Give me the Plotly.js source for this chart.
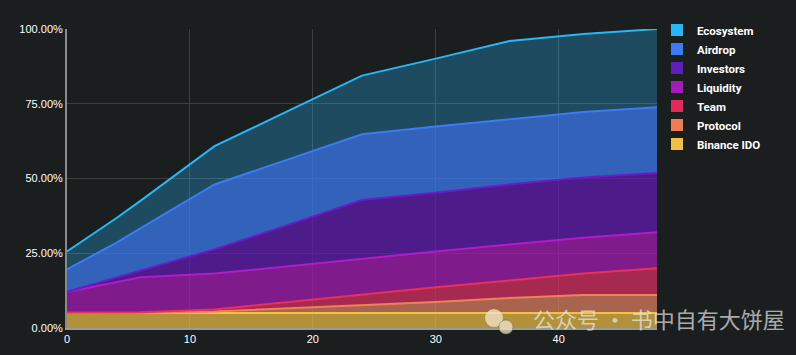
<!DOCTYPE html>
<html>
<head>
<meta charset="utf-8">
<script src="https://cdn.plot.ly/plotly-3.0.1.min.js"></script>
<style>
html,body{margin:0;padding:0;background:#1b1e1f;}
#chart{width:796px;height:355px;}
</style>
</head>
<body>
<div id="chart"></div>
<script>
// months
const months = [0, 4, 6, 12, 18, 24, 30, 36, 42, 48];
// unlocked share of total supply (%) per allocation, stacked bottom -> top
const binanceIDO = [5, 5, 5, 5, 5, 5, 5, 5, 5, 5];
const protocol   = [0, 0, 0, 0.5, 1.5, 2.5, 3.7, 5, 6, 6];
const team       = [0.2, 0.2, 0.3, 0.7, 2.2, 3.7, 4.9, 5.9, 7.2, 9];
const liquidity  = [6.8, 10.1, 11.7, 12, 12, 12, 12, 12, 12, 12];
const investors  = [0.1, 1.5, 2.1, 8.1, 13.8, 19.6, 19.6, 20.1, 20.1, 19.8];
const airdrop    = [7.5, 11.7, 14.3, 21.7, 21.9, 22, 22.2, 21.9, 21.9, 22];
const ecosystem  = [6, 8.2, 9.2, 12.8, 16.2, 19.6, 22.7, 26.1, 26.1, 26.2];

const yTicks = [0, 25, 50, 75, 100];
const yTickText = ['0.00%', '25.00%', '50.00%', '75.00%', '100.00%'];
const xTicks = [0, 10, 20, 30, 40];
const xTickText = ['0', '10', '20', '30', '40'];

const series = [
  {name: 'Binance IDO', y: binanceIDO, line: '#f4c145', fill: 'rgba(244,194,70,0.7)', legend: '#f2c04a'},
  {name: 'Protocol',    y: protocol,   line: '#f08057', fill: 'rgba(228,130,98,0.7)', legend: '#ee7d55'},
  {name: 'Team',        y: team,       line: '#e8305d', fill: 'rgba(225,47,101,0.7)', legend: '#e02a5b'},
  {name: 'Liquidity',   y: liquidity,  line: '#b01cc8', fill: 'rgba(170,25,185,0.7)', legend: '#a21cb8'},
  {name: 'Investors',   y: investors,  line: '#6a1bc8', fill: 'rgba(100,25,185,0.7)', legend: '#5e1fb8'},
  {name: 'Airdrop',     y: airdrop,    line: '#3b7cf4', fill: 'rgba(59,125,245,0.72)', legend: '#3d7bf5'},
  {name: 'Ecosystem',   y: ecosystem,  line: '#29b6f6', fill: 'rgba(41,182,246,0.3)', legend: '#29b6f6'}
];

const traces = [];
series.forEach((s, i) => {
  traces.push({
    type: 'scatter', mode: 'lines', x: months, y: s.y, name: s.name,
    stackgroup: 'one', fillcolor: s.fill,
    line: {color: s.line, width: 2},
    showlegend: false, hoverinfo: 'skip'
  });
});
// legend swatches (top-to-bottom order)
series.slice().reverse().forEach(s => {
  traces.push({
    type: 'scatter', mode: 'markers', x: [null], y: [null], name: s.name,
    marker: {symbol: 'square', size: 11, color: s.legend},
    showlegend: true, hoverinfo: 'skip'
  });
});

const iconColor = 'rgba(240,230,205,0.75)';

const layout = {
  width: 796, height: 355,
  paper_bgcolor: '#1b1e1f', plot_bgcolor: '#1b1e1f',
  margin: {l: 67, r: 139, t: 29, b: 27},
  font: {family: 'Liberation Sans, Arial, sans-serif', color: '#e6e6e6', size: 11},
  showlegend: true,
  legend: {
    x: 1.0, xanchor: 'left', y: 1.045, yanchor: 'top', traceorder: 'normal',
    font: {family: 'Roboto, Liberation Sans, sans-serif', size: 11.5, color: '#ffffff', weight: 'bold'},
    bgcolor: 'rgba(0,0,0,0)', tracegroupgap: 0, itemsizing: 'constant'
  },
  xaxis: {
    range: [0, 48], tickvals: xTicks, ticktext: xTickText,
    showgrid: true, gridcolor: '#3c3f41', gridwidth: 1,
    zeroline: false, showline: true, linecolor: '#9a9a9a', linewidth: 2,
    ticks: '', tickfont: {size: 11, color: '#ffffff'}, fixedrange: true
  },
  yaxis: {
    range: [0, 100], tickvals: yTicks, ticktext: yTickText,
    showgrid: true, gridcolor: '#3c3f41', gridwidth: 1,
    zeroline: false, showline: true, linecolor: '#8a8a8a', linewidth: 2,
    ticks: '', tickfont: {size: 11, color: '#ffffff'}, fixedrange: true
  },
  shapes: [
    {type: 'circle', xref: 'paper', yref: 'paper', x0: 0.7085, x1: 0.739, y0: 0.0033, y1: 0.0635,
     fillcolor: iconColor, line: {width: 0}, layer: 'above'},
    {type: 'circle', xref: 'paper', yref: 'paper', x0: 0.732, x1: 0.756, y0: -0.02, y1: 0.0268,
     fillcolor: iconColor, line: {width: 1, color: 'rgba(120,110,90,0.6)'}, layer: 'above'}
  ],
  annotations: [{
    xref: 'paper', yref: 'paper', x: 1.22, y: 0.034, xanchor: 'right', yanchor: 'middle',
    text: '公众号 · 书中自有大饼屋', showarrow: false,
    font: {family: 'Noto Sans CJK SC', size: 22, color: 'rgba(235,235,235,0.7)'}
  }]
};

Plotly.newPlot('chart', traces, layout, {displayModeBar: false, staticPlot: true});
</script>
</body>
</html>
